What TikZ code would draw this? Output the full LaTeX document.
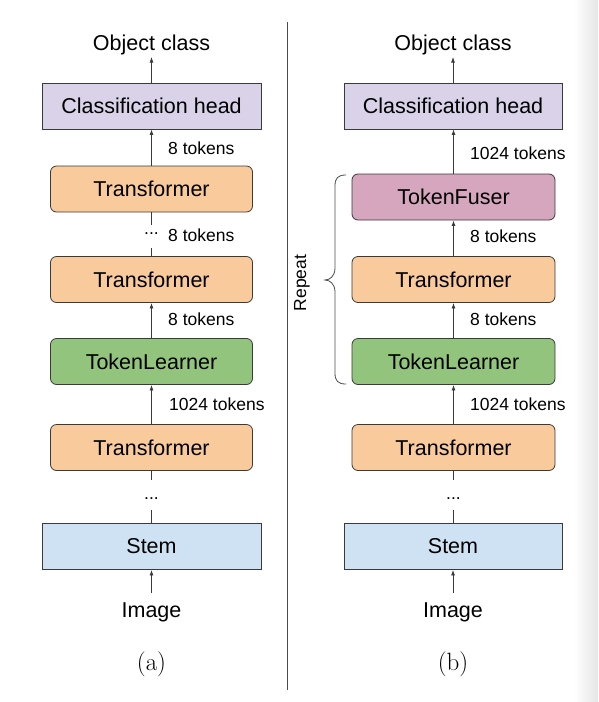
\documentclass[tikz,border=0pt]{standalone}
\usepackage{fontspec}
\setmainfont{Liberation Sans}
\newfontfamily\lmfont{Latin Modern Roman}
\usetikzlibrary{arrows.meta}
\definecolor{headc}{HTML}{D9D2E9}
\definecolor{transc}{HTML}{F9CB9C}
\definecolor{learnc}{HTML}{93C47D}
\definecolor{fusec}{HTML}{D5A6BD}
\definecolor{stemc}{HTML}{CFE2F3}
\definecolor{edgec}{HTML}{3A3A3A}
\tikzset{
  box/.style={draw=edgec, line width=0.8pt, inner sep=0pt, minimum height=46pt,
    font=\fontsize{21.5}{26}\selectfont},
  sqbox/.style={box, minimum width=219pt},
  rbox/.style={box, rounded corners=6pt, minimum width=202pt},
  big/.style={inner sep=0pt, font=\fontsize{21.5}{26}\selectfont},
  lab/.style={inner sep=0pt, anchor=west, font=\fontsize{17.5}{21}\selectfont},
  conn/.style={draw=edgec, line width=0.8pt},
  arr/.style={conn, -{Latex[length=5.5pt,width=4pt]}},
  sub/.style={inner sep=0pt, font=\lmfont\fontsize{25}{30}\selectfont},
}
\begin{document}
\begin{tikzpicture}[x=1pt,y=-1pt]
\useasboundingbox (0,0) rectangle (598,702);
\shade[left color=white, right color=black!10] (574,0) rectangle (598,702);
% separator
\draw[draw=black!70, line width=0.8pt] (287,22) -- (287,690);

% ---------- (a) ----------
\node[big] (aobj) at (151.5,45) {Object class};
\node[sqbox, fill=headc] (ahead) at (151.5,106) {Classification head};
\node[rbox, fill=transc] (at1) at (151.5,189) {Transformer};
\node[rbox, fill=transc] (at2) at (151.5,279.5) {Transformer};
\node[rbox, fill=learnc] (atl) at (151.5,361.5) {TokenLearner};
\node[rbox, fill=transc] (at3) at (151.5,447.5) {Transformer};
\node[sqbox, fill=stemc] (astem) at (151.5,546.5) {Stem};
\node[big] (aimg) at (151.5,612) {Image};
\node[sub] (acap) at (151.5,664) {(a)};

\node[lab] (al1) at (168,148) {8 tokens};
\node[big, font=\fontsize{17.5}{21}\selectfont] (adots1) at (151.5,234) {...};
\node[lab] (al2) at (168,235) {8 tokens};
\node[lab] (al3) at (168,319) {8 tokens};
\node[lab] (al4) at (169,404) {1024 tokens};
\node[big, font=\fontsize{17.5}{21}\selectfont] (adots2) at (151.5,499) {...};

\coordinate (aobjb) at (151.5,57);
\coordinate (ac1) at (151.5,225);
\coordinate (ac2) at (151.5,248);
\coordinate (ac3) at (151.5,480);
\coordinate (ac4) at (151.5,510);
\coordinate (aimgt) at (151.5,593);

\draw[arr] (ahead.north) -- (aobjb);
\draw[arr] (at1.north) -- (ahead.south);
\draw[conn] (at1.south) -- (ac1);
\draw[conn] (ac2) -- (at2.north);
\draw[arr] (atl.north) -- (at2.south);
\draw[arr] (at3.north) -- (atl.south);
\draw[conn] (at3.south) -- (ac3);
\draw[conn] (ac4) -- (astem.north);
\draw[arr] (aimgt) -- (astem.south);

% ---------- (b) ----------
\node[big] (bobj) at (453,45) {Object class};
\node[sqbox, fill=headc, minimum width=218pt] (bhead) at (453,106) {Classification head};
\node[rbox, fill=fusec, minimum width=203pt] (bfu) at (453.5,197) {TokenFuser};
\node[rbox, fill=transc, minimum width=203pt] (bt2) at (453.5,279.5) {Transformer};
\node[rbox, fill=learnc, minimum width=203pt] (btl) at (453.5,361.5) {TokenLearner};
\node[rbox, fill=transc, minimum width=203pt] (bt3) at (453.5,447.5) {Transformer};
\node[sqbox, fill=stemc, minimum width=218pt] (bstem) at (453,546.5) {Stem};
\node[big] (bimg) at (453,612) {Image};
\node[sub] (bcap) at (453,664) {(b)};

\node[lab] (bl1) at (470,153) {1024 tokens};
\node[lab] (bl2) at (470,236) {8 tokens};
\node[lab] (bl3) at (470,319) {8 tokens};
\node[lab] (bl4) at (470,404) {1024 tokens};
\node[big, font=\fontsize{17.5}{21}\selectfont] (bdots) at (453.5,499) {...};
\node[inner sep=0pt, rotate=90, font=\fontsize{17.5}{21}\selectfont] (brep) at (302,283) {Repeat};

\coordinate (bobjb) at (453,57);
\coordinate (bc3) at (453.5,480);
\coordinate (bc4) at (453.5,510);
\coordinate (bimgt) at (453,593);

\draw[arr] (bhead.north) -- (bobjb);
\draw[arr] (bfu.north) -- (bhead.south -| bfu.north);
\draw[arr] (bt2.north) -- (bfu.south);
\draw[arr] (btl.north) -- (bt2.south);
\draw[arr] (bt3.north) -- (btl.south);
\draw[conn] (bt3.south) -- (bc3);
\draw[conn] (bc4) -- (bstem.north -| bc4);
\draw[arr] (bimgt) -- (bstem.south);

% brace
\draw[draw=black!70, line width=0.8pt]
  (346,175) .. controls (338,175) and (335,178) .. (335,186)
  -- (335,268) .. controls (335,276) and (330,280) .. (325,280)
  .. controls (330,280) and (335,284) .. (335,292)
  -- (335,373) .. controls (335,381) and (338,384) .. (346,384);
\end{tikzpicture}
\end{document}
